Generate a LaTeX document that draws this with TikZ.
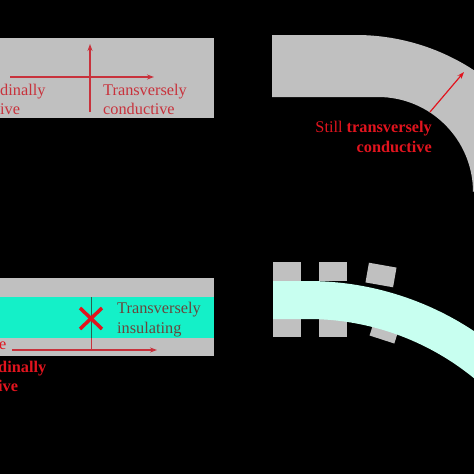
\documentclass[tikz,border=0pt]{standalone}
\usepackage{fontspec}
\setmainfont{Liberation Serif}
\usetikzlibrary{arrows.meta}
\definecolor{bandgray}{RGB}{192,192,192}
\definecolor{aqua}{RGB}{20,240,200}
\definecolor{paleaqua}{RGB}{200,255,240}
\definecolor{mutedred}{RGB}{200,50,60}
\definecolor{brightred}{RGB}{225,20,30}
\definecolor{brownish}{RGB}{105,70,60}
\definecolor{darkteal}{RGB}{40,100,80}
\tikzset{
  lbl/.style={inner sep=0pt, font=\fontsize{16.3}{19}\selectfont},
  redarrow/.style={draw=mutedred, line width=1.2pt, -{Stealth[length=7pt,width=5pt]}},
  brightarrow/.style={draw=brightred, line width=1.2pt, -{Stealth[length=7pt,width=5pt]}},
  pad/.style={fill=bandgray, inner sep=0pt, minimum width=28pt, minimum height=19pt}
}
\begin{document}
\begin{tikzpicture}[x=1pt,y=-1pt]
\fill[black] (0,0) rectangle (474,474);
\useasboundingbox (0,0) rectangle (474,474);
\clip (0,0) rectangle (474,474);

% ---------- top left ----------
\fill[bandgray] (0,38) rectangle (214,118);
\coordinate (tlh0) at (10,77);
\coordinate (tlh1) at (154,77);
\coordinate (tlv0) at (90,112);
\coordinate (tlv1) at (90,44);
\draw[redarrow] (tlh0) -- (tlh1);
\draw[redarrow] (tlv0) -- (tlv1);
\node[lbl, text=mutedred, anchor=base west] (tl1) at (0,95) {dinally};
\node[lbl, text=mutedred, anchor=base west] (tl2) at (0,114) {ive};
\node[lbl, text=mutedred, anchor=base west] (tl3) at (103,95) {Transversely};
\node[lbl, text=mutedred, anchor=base west] (tl4) at (103,114) {conductive};

% ---------- top right ----------
\fill[bandgray] (272,35) -- (356,35) arc[start angle=-90, end angle=-30, radius=215]
  -- (473,192) arc[start angle=0, end angle=-90, radius=95] -- (272,97) -- cycle;
\coordinate (tra0) at (430,112);
\coordinate (tra1) at (464,72);
\draw[brightarrow] (tra0) -- (tra1);
\node[lbl, text=brightred, anchor=base east] (tr1) at (432,132) {Still \textbf{transversely}};
\node[lbl, text=brightred, anchor=base east] (tr2) at (432,152) {\textbf{conductive}};

% ---------- bottom left ----------
\fill[bandgray] (0,278) rectangle (214,356);
\fill[aqua] (0,297) rectangle (214,338);
\coordinate (blv0) at (91,297);
\coordinate (blv1) at (91,338);
\coordinate (blv2) at (91,351);
\draw[darkteal, line width=0.9pt] (blv0) -- (blv1);
\draw[mutedred, line width=0.9pt] (blv1) -- (blv2);
\coordinate (blh0) at (12,350);
\coordinate (blh1) at (157,350);
\draw[redarrow] (blh0) -- (blh1);
\coordinate (x1) at (80,308);
\coordinate (x2) at (102,329);
\coordinate (x3) at (80,329);
\coordinate (x4) at (102,308);
\draw[brightred, line width=3.5pt] (x1) -- (x2);
\draw[brightred, line width=3.5pt] (x3) -- (x4);
\node[lbl, text=brownish, anchor=base west] (bl1) at (117,313) {Transversely};
\node[lbl, text=brownish, anchor=base west] (bl2) at (117,333) {insulating};
\node[lbl, text=brightred, anchor=base west] (bl3) at (-1,349) {e};
\node[lbl, text=brightred, anchor=base west] (bl4) at (-2,372) {\textbf{dinally}};
\node[lbl, text=brightred, anchor=base west] (bl5) at (-2,391) {\textbf{ive}};

% ---------- bottom right ----------
\node[pad, anchor=north west] (p1) at (273,262) {};
\node[pad, anchor=north west] (p2) at (319,262) {};
\node[pad, anchor=south west] (p3) at (273,337) {};
\node[pad, anchor=south west] (p4) at (319,337) {};
\node[pad, rotate=-10, minimum height=20pt] (p5) at (381,275) {};
\node[pad, rotate=-18, minimum width=26pt, minimum height=20pt] (p6) at (385,330) {};
\fill[paleaqua] (273,281) -- (308,281) arc[start angle=-90, end angle=-30, radius=300]
  -- (535,450) arc[start angle=-30, end angle=-90, radius=262] -- (273,319) -- cycle;
\end{tikzpicture}
\end{document}
